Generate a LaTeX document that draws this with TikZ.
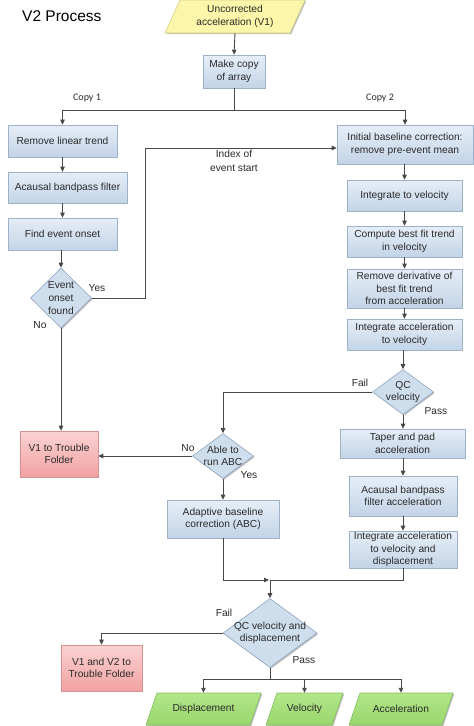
\documentclass[tikz,border=0pt]{standalone}
\usepackage{fontspec}
\setmainfont{Liberation Sans}
\newfontfamily\calib{Carlito}
\usetikzlibrary{arrows.meta,shapes.geometric,shadows,calc}
\definecolor{boxtop}{HTML}{E6EEF7}
\definecolor{boxbot}{HTML}{C3D4E7}
\definecolor{boxline}{HTML}{9DB2C9}
\definecolor{diafill}{HTML}{CFDEED}
\definecolor{dialine}{HTML}{8EA6C0}
\definecolor{pinktop}{HTML}{FAD2D2}
\definecolor{pinkbot}{HTML}{F2A2A2}
\definecolor{pinkline}{HTML}{D99090}
\definecolor{yfill}{HTML}{FBF6AA}
\definecolor{yline}{HTML}{D6CF88}
\definecolor{gtop}{HTML}{B2E68A}
\definecolor{gbot}{HTML}{9AD66C}
\definecolor{gline}{HTML}{84BF5C}
\definecolor{linec}{HTML}{484848}
\definecolor{txt}{HTML}{2A2A2A}
\newcommand\parabox[7]{%
  \path[#7] ({#2-#4/2},{#3+#5/2}) -- ({#2-#4/2+#6},{#3-#5/2}) -- ({#2+#4/2},{#3-#5/2}) -- ({#2+#4/2-#6},{#3+#5/2}) -- cycle;
  \node[txtonly, minimum width=#4, minimum height=#5] (#1) at (#2,#3) {};}
\begin{document}
\begin{tikzpicture}[x=1pt,y=-1pt,
  every node/.style={text=txt},
  bfont/.style={font=\fontsize{10.2}{12.6}\selectfont},
  txtonly/.style={rectangle, inner sep=0pt, align=center, bfont},
  shad/.style={drop shadow={shadow xshift=1.2pt, shadow yshift=-1.2pt, opacity=0.25, fill=black}},
  proc/.style={rectangle, draw=boxline, line width=0.6pt, top color=boxtop, bottom color=boxbot, inner sep=1pt, align=center, bfont, shad},
  trouble/.style={rectangle, draw=pinkline, line width=0.6pt, top color=pinktop, bottom color=pinkbot, inner sep=1pt, align=center, bfont, shad},
  dia/.style={diamond, draw=dialine, line width=0.6pt, fill=diafill, inner sep=0pt, shad},
  ypara/.style={draw=yline, line width=0.6pt, fill=yfill, shad},
  gpara/.style={draw=gline, line width=0.6pt, top color=gtop, bottom color=gbot, shad},
  arr/.style={draw=linec, line width=0.9pt, -{Triangle[length=5pt,width=4.5pt]}},
  ln/.style={draw=linec, line width=0.9pt},
  lbl/.style={bfont, inner sep=0pt},
  clbl/.style={font=\calib\fontsize{10}{12}\selectfont, inner sep=0pt}]
\useasboundingbox[fill=white] (0,0) rectangle (474,726);

\node[anchor=west, font=\fontsize{15.5}{17}\selectfont, text=black, inner sep=0pt] (title) at (22,16) {V2 Process};

% top
\parabox{v1}{235}{16.5}{140}{33}{15}{ypara}
\node[txtonly] at (v1) {Uncorrected\\acceleration (V1)};
\node[proc, minimum width=62, minimum height=33] (copy) at (234,71.5) {Make copy\\of array};

% left column
\node[proc, minimum width=109, minimum height=32] (rlt) at (62.5,141) {Remove linear trend};
\node[proc, minimum width=119, minimum height=31] (abf) at (67.5,187.5) {Acausal bandpass filter};
\node[proc, minimum width=109, minimum height=32] (feo) at (62.5,234) {Find event onset};
\node[dia, minimum width=61, minimum height=60] (d1) at (61,298) {};
\node[txtonly] at (d1) {Event\\onset\\found};
\node[trouble, minimum width=78, minimum height=46] (t1) at (59,454) {V1 to Trouble\\Folder};

% right column
\node[proc, minimum width=136, minimum height=39] (ibc) at (405,144.5) {Initial baseline correction:\\remove pre-event mean};
\node[proc, minimum width=115, minimum height=31] (itv) at (404.5,195.5) {Integrate to velocity};
\node[proc, minimum width=115, minimum height=31] (cbf) at (404.5,241.5) {Compute best fit trend\\in velocity};
\node[proc, minimum width=115, minimum height=39] (rd) at (404.5,288.5) {Remove derivative of\\best fit trend\\from acceleration};
\node[proc, minimum width=115, minimum height=31] (iav) at (404.5,334.5) {Integrate acceleration\\to velocity};
\node[dia, minimum width=61, minimum height=45] (qc1) at (403,392) {};
\node[txtonly] at (qc1) {QC\\velocity};
\node[proc, minimum width=125, minimum height=29] (taper) at (402.5,443.5) {Taper and pad\\acceleration};
\node[proc, minimum width=108, minimum height=40] (abfa) at (403,496) {Acausal bandpass\\filter acceleration};
\node[proc, minimum width=108, minimum height=37] (iavd) at (403,549.5) {Integrate acceleration\\to velocity and\\displacement};

% middle
\node[dia, minimum width=61, minimum height=45] (abc) at (223,456) {};
\node[txtonly] at (abc) {Able to\\run ABC};
\node[proc, minimum width=112, minimum height=38] (adapt) at (223,519) {Adaptive baseline\\correction (ABC)};
\coordinate (join) at (270,580);
\node[dia, minimum width=94, minimum height=69] (qc2) at (270,633) {};
\node[txtonly] at (qc2) {QC velocity and\\displacement};
\node[trouble, minimum width=81, minimum height=46] (t2) at (101.5,668) {V1 and V2 to\\Trouble Folder};

% outputs
\parabox{disp}{203.5}{709}{115}{32}{11}{gpara}
\node[txtonly] at (disp) {Displacement};
\parabox{vel}{304.5}{709}{77}{32}{11}{gpara}
\node[txtonly] at (vel) {Velocity};
\parabox{acc}{401}{709}{104}{32}{11}{gpara}
\node[txtonly] at (acc) {Acceleration};
\coordinate (split) at (270,679);

% connectors
\draw[arr] (v1.south) -- (copy.north);
\draw[arr] (copy.south) -- ++(0,22) -| (rlt.north);
\draw[arr] (copy.south) -- ++(0,22) -| (ibc.north);
\draw[arr] (rlt) -- (abf.north -| rlt);
\draw[arr] (abf.south -| feo) -- (feo.north);
\draw[arr] (feo.south -| d1) -- (d1.north);
\draw[arr] (d1.east) -- (145,298) |- ($(ibc.west)+(0,3.5)$);
\draw[arr] (d1.south) -- (d1.south |- t1.north);
\draw[arr] (ibc.south -| itv) -- (itv.north);
\draw[arr] (itv) -- (cbf);
\draw[arr] (cbf) -- (rd);
\draw[arr] (rd) -- (iav);
\draw[arr] (iav.south -| qc1) -- (qc1.north);
\draw[arr] (qc1.south) -- (qc1.south |- taper.north);
\draw[arr] (taper.south -| abfa) -- (abfa.north);
\draw[arr] (abfa) -- (iavd);
\draw[arr] (qc1.west) -| (abc.north);
\draw[arr] (abc.west) -- (abc.west -| t1.east);
\draw[arr] (abc.south) -- (adapt.north);
\draw[arr] (adapt.south) |- ($(join)+(-1,0)$);
\draw[ln] (iavd.south) |- (join);
\draw[arr] (join) -- (qc2.north);
\draw[arr] (qc2.west) -| (t2.north);
\draw[ln] (qc2.south) -- (split);
\draw[arr] (split) -| (disp.north);
\draw[arr] (split) -| (acc.north);
\draw[arr] (split -| vel.north) -- (vel.north);

% labels
\node[clbl] at (87,98) {Copy 1};
\node[clbl] at (380,98) {Copy 2};
\node[lbl, align=center, font=\fontsize{10.2}{14}\selectfont] at (234,161) {Index of\\event start};
\node[lbl] at (97,288) {Yes};
\node[lbl] at (40,325) {No};
\node[lbl] at (360,383) {Fail};
\node[lbl] at (436,411) {Pass};
\node[lbl] at (188,448) {No};
\node[lbl] at (249,475) {Yes};
\node[lbl] at (224,613) {Fail};
\node[lbl] at (304,660) {Pass};
\end{tikzpicture}
\end{document}
